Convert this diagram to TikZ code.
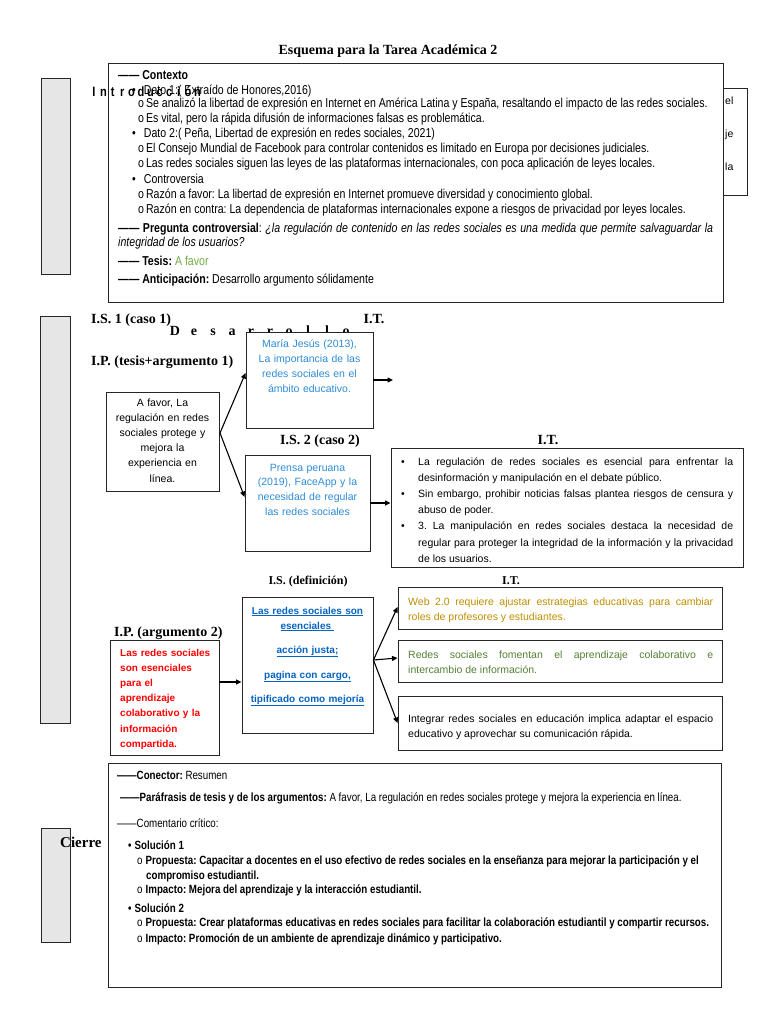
\documentclass[tikz,border=0pt]{standalone}
\usepackage{fontspec}
\setmainfont{Liberation Serif}
\newfontfamily\arialf{Liberation Sans}
\newfontfamily\narrowf[FakeStretch=0.82]{Liberation Sans}
\usetikzlibrary{positioning,arrows.meta}
\definecolor{barfill}{RGB}{230,230,230}
\definecolor{lblue}{RGB}{46,140,215}
\definecolor{dblue}{RGB}{5,99,193}
\definecolor{ochre}{RGB}{191,143,0}
\definecolor{leaf}{RGB}{84,130,53}
\definecolor{lgreen}{RGB}{112,173,71}
\definecolor{alert}{RGB}{255,0,0}
\frenchspacing

\begin{document}
\begin{tikzpicture}[x=1pt,y=-1pt,
  bar/.style={draw=black!85,fill=barfill,line width=0.9pt,inner sep=0pt},
  box/.style={draw=black!85,fill=white,line width=0.9pt,inner sep=0pt},
  hd/.style={font=\bfseries\fontsize{14}{16}\selectfont,inner sep=0pt,anchor=base},
  hdsm/.style={font=\bfseries\fontsize{12}{14}\selectfont,inner sep=0pt,anchor=base},
  ln/.style={font=\narrowf\fontsize{12.9}{14}\selectfont,inner sep=0pt,anchor=base west},
  cl/.style={font=\narrowf\fontsize{11.9}{14}\selectfont,inner sep=0pt,anchor=base west},
  bx/.style={font=\arialf\fontsize{10.5}{15.2}\selectfont,inner sep=0pt,anchor=base},
  it/.style={bx,anchor=base west,text width=305,align=justify},
  ar/.style={-{Triangle[length=5.5pt,width=5pt]},line width=1.1pt}]
\useasboundingbox (0,0) rectangle (768,1024);
% ---- title and side bars
\node[hd] (title) at (388,55) {Esquema para la Tarea Académica 2};
\node[bar,anchor=north west,minimum width=29,minimum height=196] (bar1) at (41,78) {};
\node[bar,anchor=north west,minimum width=30,minimum height=407] (bar2) at (40,316) {};
\node[bar,anchor=north west,minimum width=29,minimum height=114] (bar3) at (41,828) {};
% ---- introduccion
\node[box,anchor=north east,minimum width=150,minimum height=107] (back) at (748,88) {};
\foreach \y/\txt [count=\i] in {105/el,138/je,171/la}
  \node[bx,anchor=base west] (bk\i) at (725,\y) {\txt};
\node[box,anchor=north west,minimum width=615,minimum height=239] (introbox) at (108,63) {};
\foreach \ch [count=\i] in {I,n,t,r,o,d,u,c,c,i,ó,n}
  \node[font=\narrowf\bfseries\fontsize{13.5}{15}\selectfont,inner sep=0pt,anchor=base] (in\i) at (94+9.4*\i-9.4,97) {\ch};
\foreach \y/\x/\txt [count=\i] in {
  80/118/{\textbf{—— Contexto}},
  95/132/{•\hspace{8pt}Dato 1:( Extraído de Honores,2016)},
  108/138/{o\hspace{2pt}Se analizó la libertad de expresión en Internet en América Latina y España, resaltando el impacto de las redes sociales.},
  123/138/{o\hspace{2pt}Es vital, pero la rápida difusión de informaciones falsas es problemática.},
  138/132/{•\hspace{8pt}Dato 2:( Peña, Libertad de expresión en redes sociales, 2021)},
  153/138/{o\hspace{2pt}El Consejo Mundial de Facebook para controlar contenidos es limitado en Europa por decisiones judiciales.},
  168/138/{o\hspace{2pt}Las redes sociales siguen las leyes de las plataformas internacionales, con poca aplicación de leyes locales.},
  184/132/{•\hspace{8pt}Controversia},
  199/138/{o\hspace{2pt}Razón a favor: La libertad de expresión en Internet promueve diversidad y conocimiento global.},
  214/138/{o\hspace{2pt}Razón en contra: La dependencia de plataformas internacionales expone a riesgos de privacidad por leyes locales.},
  265/118/{\textbf{—— Tesis:} \textcolor{lgreen}{A favor}},
  283/118/{\textbf{—— Anticipación:} Desarrollo argumento sólidamente}}
  \node[ln] (ctx\i) at (\x,\y) {\txt};
\node[ln,text width=595,align=justify] (preg) at (118,233) {\hangindent=18pt\hangafter=1 \textbf{—— Pregunta controversial}: \textit{¿la regulación de contenido en las redes sociales es una medida que permite salvaguardar la integridad de los usuarios?}};
% ---- desarrollo: caso 1 y caso 2
\node[hd,anchor=base west] (is1) at (91,323) {I.S. 1 (caso 1)};
\node[hd] (it1) at (374,323) {I.T.};
\node[hd,anchor=base west] (ip1) at (91,365) {I.P. (tesis+argumento 1)};
\foreach \ch [count=\i] in {D,e,s,a,r,r,o,l,l,o}
  \node[hd] (ds\i) at (175+19*\i-19,335) {\ch};
\node[box,minimum width=127,minimum height=96] (maria) at (309.5,380) {};
\node[bx,text=lblue,text width=120,align=center] (mariat) at (309.5,347) {María Jesús (2013),\\La importancia de las\\redes sociales en el\\ámbito educativo.};
\node[box,minimum width=113,minimum height=99] (fav) at (162.5,441.5) {};
\node[bx,text width=112,align=center] (favt) at (162.5,406) {A favor, La\\regulación en redes\\sociales protege y\\mejora la\\experiencia en\\línea.};
\node[hd] (is2) at (320,444) {I.S. 2 (caso 2)};
\node[hd] (it2h) at (548,444) {I.T.};
\node[box,minimum width=125,minimum height=96] (prensa) at (307.5,503) {};
\node[bx,text=lblue,text width=120,align=center,font=\arialf\fontsize{10.5}{14.7}\selectfont] (prensat) at (307.5,471) {Prensa peruana\\(2019), FaceApp y la\\necesidad de regular\\las redes sociales};
\node[box,minimum width=352,minimum height=119] (it2) at (567,507.5) {};
\node[bx,anchor=base west,text width=332,align=justify,font=\arialf\fontsize{10.5}{16.2}\selectfont] (it2t) at (401,465) {%
\hangindent=17pt\hangafter=1\noindent\makebox[17pt][l]{•}La regulación de redes sociales es esencial para enfrentar la\linebreak desinformación y manipulación en el debate público.\par
\hangindent=17pt\hangafter=1\noindent\makebox[17pt][l]{•}Sin embargo, prohibir noticias falsas plantea riesgos de censura y\linebreak abuso de poder.\par
\hangindent=17pt\hangafter=1\noindent\makebox[17pt][l]{•}3. La manipulación en redes sociales destaca la necesidad de\linebreak regular para proteger la integridad de la información y la privacidad\linebreak de los usuarios.\par};
\coordinate (fo) at (220,433);
\coordinate (mend) at (393,380);
\draw[ar] (fo) -- ([yshift=7pt]maria.west);
\draw[ar] (fo) -- ([yshift=6pt]prensa.west);
\draw[ar] (maria.east) -- (mend);
\draw[ar] (prensa.east) -- (prensa.east -| it2.west);
% ---- desarrollo: argumento 2
\node[hdsm] (isd) at (308,584) {I.S. (definición)};
\node[hdsm] (it3h) at (511,584) {I.T.};
\node[hd,anchor=base west] (ip2) at (114,636) {I.P. (argumento 2)};
\node[box,minimum width=109,minimum height=115] (red) at (164.5,697.5) {};
\node[bx,anchor=base west,text=alert,font=\arialf\bfseries\fontsize{10}{15.2}\selectfont,text width=98,align=left] (redt) at (120,656) {Las redes sociales\\son esenciales\\para el\\aprendizaje\\colaborativo y la\\información\\compartida.};
\node[box,minimum width=131,minimum height=136] (isdef) at (307.5,665) {};
\node[bx,text=dblue,font=\arialf\bfseries\fontsize{10}{15}\selectfont,text width=128,align=center] (isdeft) at (307.5,614) {\underline{Las redes sociales son}\\\underline{esenciales\ }\\[9pt]\underline{acción justa;}\\[10pt]\underline{pagina con cargo,}\\[9pt]\underline{tipificado como mejoría}};
\node[box,minimum width=324,minimum height=42] (ita) at (560,608) {};
\node[it,text=ochre] (itat) at (408,605) {Web 2.0 requiere ajustar estrategias educativas para cambiar\linebreak roles de profesores y estudiantes.};
\node[box,minimum width=324,minimum height=42] (itb) at (560,661) {};
\node[it,text=leaf] (itbt) at (408,658) {Redes sociales fomentan el aprendizaje colaborativo e\linebreak intercambio de información.};
\node[box,minimum width=324,minimum height=54] (itc) at (560,723) {};
\node[it] (itct) at (408,722) {Integrar redes sociales en educación implica adaptar el espacio\linebreak educativo y aprovechar su comunicación rápida.};
\coordinate (fan) at ([yshift=5pt]isdef.east);
\draw[ar] ([yshift=15.5pt]red.east) -- ([yshift=15.5pt]red.east -| isdef.west);
\draw[ar] (fan) -- ([yshift=1pt]ita.west);
\draw[ar] (fan) -- ([yshift=3pt]itb.west);
\draw[ar] (fan) -- (itc.west);
% ---- cierre
\node[hd,anchor=base west,font=\bfseries\fontsize{15}{17}\selectfont] (cierre) at (60,847) {Cierre};
\node[box,anchor=north west,minimum width=613,minimum height=224] (cbox) at (108,763) {};
\foreach \y/\x/\txt [count=\i] in {
  779/117/{\textbf{——Conector:} Resumen},
  801/120/{\textbf{——Paráfrasis de tesis y de los argumentos:} A favor, La regulación en redes sociales protege y mejora la experiencia en línea.},
  827/117/{——Comentario crítico:},
  849/128/{\textbf{•\hspace{3pt}Solución 1}},
  864/137/{o\hspace{3pt}\textbf{Propuesta: Capacitar a docentes en el uso efectivo de redes sociales en la enseñanza para mejorar la participación y el}},
  879/146/{\textbf{compromiso estudiantil.}},
  893/137/{o\hspace{3pt}\textbf{Impacto: Mejora del aprendizaje y la interacción estudiantil.}},
  912/128/{\textbf{•\hspace{3pt}Solución 2}},
  926/137/{o\hspace{3pt}\textbf{Propuesta: Crear plataformas educativas en redes sociales para facilitar la colaboración estudiantil y compartir recursos.}},
  942/137/{o\hspace{3pt}\textbf{Impacto: Promoción de un ambiente de aprendizaje dinámico y participativo.}}}
  \node[cl] (cl\i) at (\x,\y) {\txt};
\end{tikzpicture}
\end{document}
